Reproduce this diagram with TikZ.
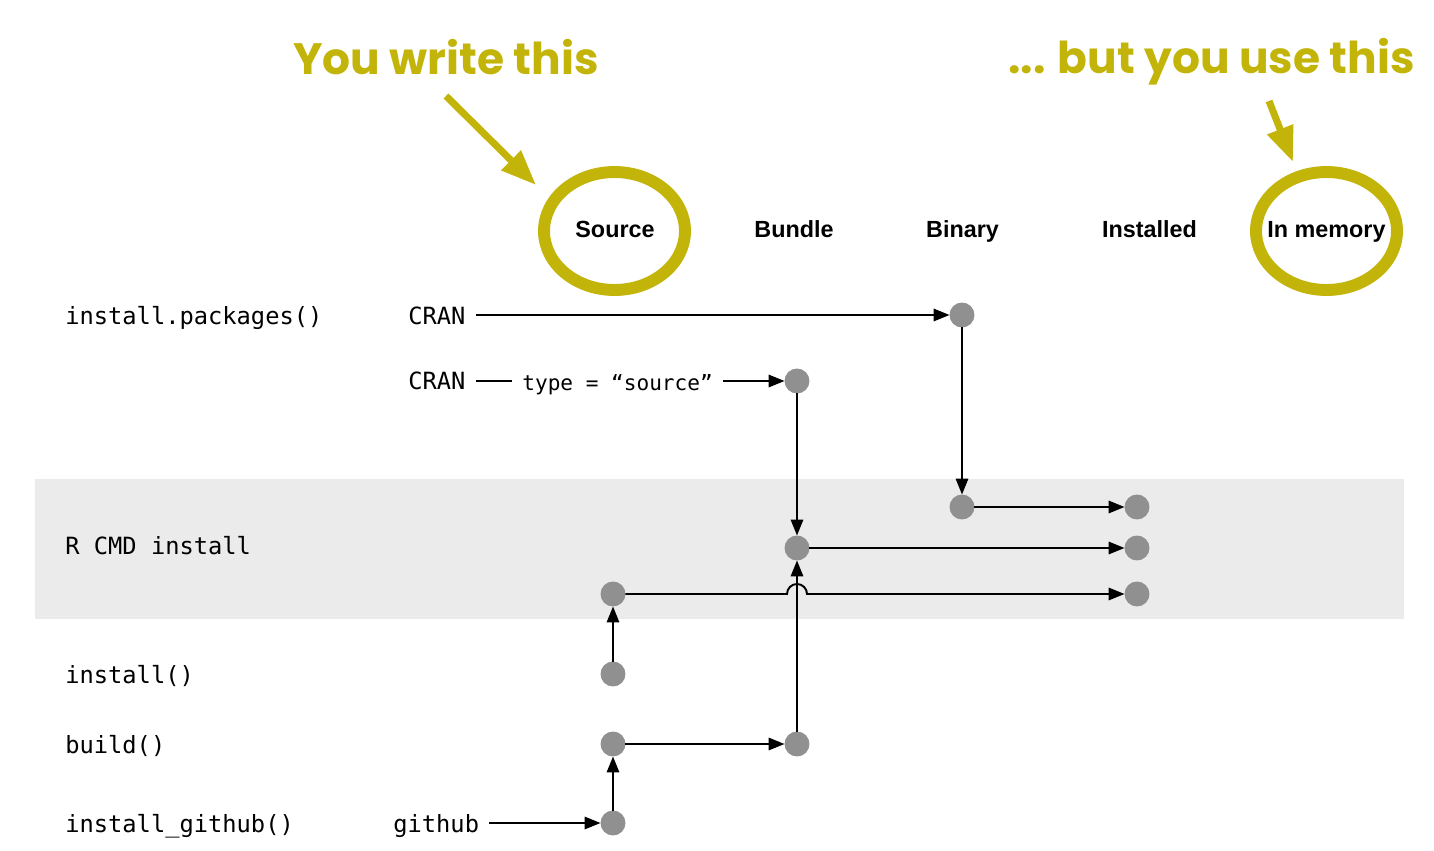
\documentclass[tikz,border=0pt]{standalone}
\usepackage{fontspec}
\setmainfont{Liberation Sans}
\newfontfamily\monofont{DejaVu Sans Mono}
\newfontfamily\titlefont{Poppins}
\usetikzlibrary{arrows.meta,shapes.geometric,calc}
\definecolor{olive}{RGB}{195,180,10}
\definecolor{band}{RGB}{235,235,235}
\definecolor{dotgray}{RGB}{144,144,144}
\tikzset{
  dot/.style={circle,fill=dotgray,minimum size=14.2pt,inner sep=0pt,outer sep=0pt},
  code/.style={inner sep=0pt,anchor=base west,font=\monofont\fontsize{13.5}{16}\selectfont},
  src/.style={inner xsep=5.7pt,inner ysep=0pt,anchor=base west,font=\monofont\fontsize{13.5}{16}\selectfont},
  hdr/.style={inner sep=0pt,anchor=base,font=\bfseries\fontsize{13.3}{16}\selectfont},
  ttl/.style={inner sep=0pt,anchor=base west,text=olive,font=\titlefont\bfseries\fontsize{25}{30}\selectfont},
  ring/.style={ellipse,draw=olive,line width=6.8pt,minimum width=2.82cm,minimum height=2.36cm,inner sep=0pt},
  arr/.style={line width=1.1pt,-{Triangle[length=9pt,width=7pt]}},
  yarr/.style={draw=olive,line width=4pt,-{Triangle[length=20pt,width=15pt]},fill=olive},
}
\begin{document}
\begin{tikzpicture}[x=0.02cm,y=-0.02cm]
\useasboundingbox (0,0) rectangle (1434,851);
\fill[band] (35,479) rectangle (1404,619);

% titles
\node[ttl] (t1) at (293,75) {You write this};
\node[ttl] (t2) at (1008,74) {... but you use this};
\coordinate (y1a) at (446,96);
\coordinate (y1b) at (536,185);
\coordinate (y2a) at (1269,101);
\coordinate (y2b) at (1293,162);
\draw[yarr] (y1a) -- (y1b);
\draw[yarr] (y2a) -- (y2b);

% rings
\node[ring] (ringsrc) at (614.5,231) {};
\node[ring] (ringmem) at (1326.5,231) {};

% headers
\node[hdr] (hsrc) at (615,238) {Source};
\node[hdr] (hbun) at (794,238) {Bundle};
\node[hdr] (hbin) at (962.5,238) {Binary};
\node[hdr] (hins) at (1149.5,238) {Installed};
\node[hdr] (hmem) at (1326.5,238) {In memory};

% row labels
\node[code] (l1) at (65,325) {install.packages()};
\node[code] (l2) at (65,554) {R CMD install};
\node[code] (l3) at (65,683) {install()};
\node[code] (l4) at (65,753) {build()};
\node[code] (l5) at (65,832) {install\_github()};

% sources
\node[src] (cran1) at (398,325) {CRAN};
\node[src] (cran2) at (398,389) {CRAN};
\node[src,font=\monofont\fontsize{12}{14}\selectfont] (typ) at (512,390) {type = “source”};
\node[src] (gh) at (383,832) {github};

% dots
\node[dot] (bin1) at (962,315) {};
\node[dot] (bun1) at (797,381) {};
\node[dot] (bin2) at (962,507) {};
\node[dot] (ins1) at (1137,507) {};
\node[dot] (bun2) at (797,548) {};
\node[dot] (ins2) at (1137,548) {};
\node[dot] (rsrc) at (613,594) {};
\node[dot] (ins3) at (1137,594) {};
\node[dot] (isrc) at (613,674) {};
\node[dot] (bsrc) at (613,744) {};
\node[dot] (bbun) at (797,744) {};
\node[dot] (gsrc) at (613,823) {};

% connectors
\draw[arr] (cran1.east |- bin1) -- (bin1);
\draw[line width=1.1pt] (cran2.east |- bun1) -- (typ.west |- bun1);
\draw[arr] (typ.east |- bun1) -- (bun1);
\draw[arr] (bin1) -- (bin2);
\draw[arr] (bun1) -- (bun2);
\draw[arr] (bin2) -- (ins1);
\draw[arr] (bun2) -- (ins2);
\draw[arr] (isrc) -- (rsrc);
\draw[arr] (bsrc) -- (bbun);
\draw[arr] (bbun) -- (bun2);
\draw[arr] (gsrc) -- (bsrc);
\draw[arr] (gh.east |- gsrc) -- (gsrc);
\draw[arr] (rsrc) -- ([xshift=-5.7pt]rsrc -| bbun) arc[start angle=180,end angle=0,radius=5.7pt] -- (ins3);
\end{tikzpicture}
\end{document}
